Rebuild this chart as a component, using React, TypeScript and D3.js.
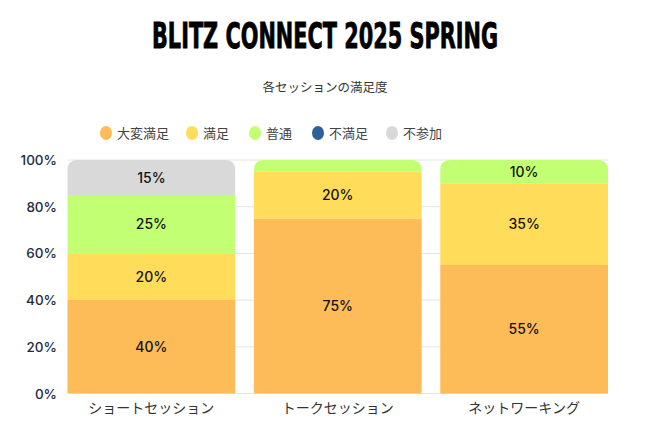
import { useEffect, useRef } from "react"
import * as d3 from "d3"

const categories = ["ショートセッション", "トークセッション", "ネットワーキング"]
const seriesNames = ["大変満足", "満足", "普通", "不満足", "不参加"]
const seriesColors = ["#FDBC58", "#FFDC59", "#C2FF73", "#2D5F99", "#D9D9D9"]
const veryGood = [40, 75, 55]
const good = [20, 20, 35]
const normal = [25, 5, 10]
const bad = [0, 0, 0]
const absent = [15, 0, 0]
const yTicks = [0, 20, 40, 60, 80, 100]
const legendX = [106, 192, 255, 318, 392]

const jpFont = "'Noto Sans CJK JP', 'Noto Sans', sans-serif"
const numFont = "Inter, 'Noto Sans', sans-serif"

export default function App() {
  const svgRef = useRef<SVGSVGElement>(null)

  useEffect(() => {
    if (!svgRef.current) return
    const svg = d3.select(svgRef.current)
    svg.selectAll("*").remove()

    const width = 650
    const left = 67.5
    const right = 608
    const top = 160
    const bottom = 393.5

    const rows = categories.map((c, i) => ({
      cat: c,
      [seriesNames[0]]: veryGood[i],
      [seriesNames[1]]: good[i],
      [seriesNames[2]]: normal[i],
      [seriesNames[3]]: bad[i],
      [seriesNames[4]]: absent[i],
    }))
    const stacked = d3.stack<any>().keys(seriesNames)(rows)

    const x = d3.scaleBand().domain(categories).range([left, right]).paddingInner(0.1).paddingOuter(0)
    const y = d3.scaleLinear().domain([0, 100]).range([bottom, top])
    const color = d3.scaleOrdinal<string>().domain(seriesNames).range(seriesColors)

    // title
    svg
      .append("text")
      .attr("x", width / 2)
      .attr("y", 48)
      .attr("text-anchor", "middle")
      .attr("font-family", "'Liberation Sans Narrow', 'DejaVu Sans Condensed', sans-serif")
      .attr("font-weight", "bold")
      .attr("font-size", 35)
      .attr("textLength", 346)
      .attr("lengthAdjust", "spacingAndGlyphs")
      .attr("fill", "#000")
      .attr("stroke", "#000")
      .attr("stroke-width", 0.8)
      .text("BLITZ CONNECT 2025 SPRING")

    svg
      .append("text")
      .attr("x", width / 2)
      .attr("y", 91.5)
      .attr("text-anchor", "middle")
      .attr("font-family", jpFont)
      .attr("font-size", 12.5)
      .attr("fill", "#333")
      .text("各セッションの満足度")

    // legend
    const legend = svg.append("g")
    seriesNames.forEach((name, i) => {
      legend
        .append("ellipse")
        .attr("cx", legendX[i])
        .attr("cy", 133)
        .attr("rx", 6)
        .attr("ry", 7)
        .attr("fill", color(name))
      legend
        .append("text")
        .attr("x", legendX[i] + 11)
        .attr("y", 137.5)
        .attr("font-family", jpFont)
        .attr("font-size", 13)
        .attr("fill", "#444")
        .text(name)
    })

    // grid
    svg
      .append("g")
      .selectAll("line")
      .data(yTicks)
      .enter()
      .append("line")
      .attr("x1", left)
      .attr("x2", right)
      .attr("y1", (d) => y(d))
      .attr("y2", (d) => y(d))
      .attr("stroke", "#e4e4e4")
      .attr("stroke-width", 1)

    // y labels
    svg
      .append("g")
      .selectAll("text")
      .data(yTicks)
      .enter()
      .append("text")
      .attr("x", 57)
      .attr("y", (d) => y(d) + 5)
      .attr("text-anchor", "end")
      .attr("font-family", numFont)
      .attr("font-weight", 500)
      .attr("font-size", 13.5)
      .attr("fill", "#1f2a3d")
      .text((d) => d + "%")

    // x labels
    svg
      .append("g")
      .selectAll("text")
      .data(categories)
      .enter()
      .append("text")
      .attr("x", (d) => (x(d) as number) + x.bandwidth() / 2)
      .attr("y", 413)
      .attr("text-anchor", "middle")
      .attr("font-family", jpFont)
      .attr("font-size", 14)
      .attr("fill", "#333")
      .text((d) => d)

    // top segment index per category, to round its corners
    const topKey = categories.map((_, i) => {
      let k = -1
      stacked.forEach((s, j) => {
        if (s[i][1] - s[i][0] > 0) k = j
      })
      return k
    })

    const r = 10
    const bars = svg.append("g")
    stacked.forEach((s, j) => {
      s.forEach((seg, i) => {
        const v = seg[1] - seg[0]
        if (v <= 0) return
        const cat = categories[i]
        const x0 = x(cat) as number
        const x1 = x0 + x.bandwidth()
        const y0 = y(seg[0])
        const y1 = y(seg[1])
        let d
        if (topKey[i] === j) {
          const rr = Math.min(r, y0 - y1)
          d = `M${x0},${y0}V${y1 + rr}Q${x0},${y1} ${x0 + rr},${y1}H${x1 - rr}Q${x1},${y1} ${x1},${y1 + rr}V${y0}Z`
        } else {
          d = `M${x0},${y0}V${y1}H${x1}V${y0}Z`
        }
        bars.append("path").attr("d", d).attr("fill", color(s.key))
        if (v > 5) {
          bars
            .append("text")
            .attr("x", (x0 + x1) / 2)
            .attr("y", (y0 + y1) / 2 + 5)
            .attr("text-anchor", "middle")
            .attr("font-family", numFont)
            .attr("font-weight", 500)
            .attr("font-size", 14)
            .attr("fill", "#111")
            .text(v + "%")
        }
      })
    })
  }, [])

  return (
    <div style={{ position: "absolute", left: 0, top: 0, width: 650, height: 430, background: "#fff" }}>
      <svg ref={svgRef} width={650} height={430}></svg>
    </div>
  )
}
